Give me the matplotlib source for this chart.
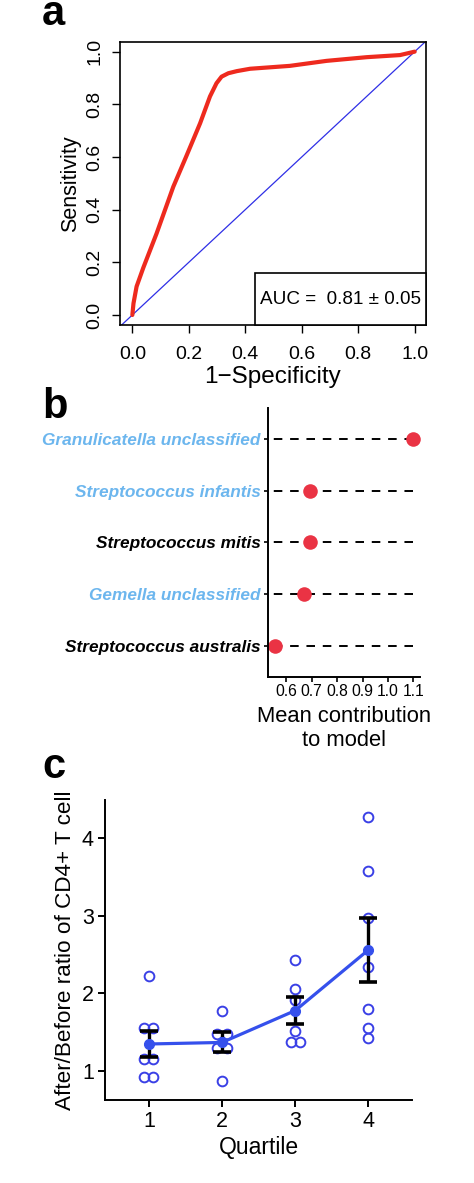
import numpy as np
import matplotlib
matplotlib.use("Agg")
import matplotlib.pyplot as plt
from matplotlib.offsetbox import AnchoredOffsetbox, TextArea, VPacker, DrawingArea

plt.rcParams['font.family'] = ['Liberation Sans', 'DejaVu Sans']

# panel a: ROC curve
roc_fpr = [0.0, 0.004, 0.015, 0.039, 0.086, 0.145, 0.19, 0.24, 0.275, 0.298, 0.316,
           0.34, 0.37, 0.417, 0.558, 0.688, 0.83, 0.948, 1.0]
roc_tpr = [0.0, 0.044, 0.108, 0.18, 0.31, 0.487, 0.6, 0.728, 0.83, 0.88, 0.905,
           0.918, 0.926, 0.935, 0.946, 0.965, 0.979, 0.987, 1.0]
auc_text = "AUC =  0.81 \u00b1 0.05"

# panel b: mean contribution to model
taxa = ["Streptococcus australis", "Gemella unclassified", "Streptococcus mitis",
        "Streptococcus infantis", "Granulicatella unclassified"]
contribution = [0.554, 0.668, 0.694, 0.694, 1.099]
taxa_colors = ["black", "#6CB6EE", "black", "#6CB6EE", "#6CB6EE"]
contrib_ticks = [0.6, 0.7, 0.8, 0.9, 1.0, 1.1]

# panel c: after/before ratio per quartile
quartiles = ["1", "2", "3", "4"]
ratios = [
    [0.92, 0.92, 1.16, 1.16, 1.55, 1.55, 2.23],
    [0.87, 1.30, 1.30, 1.48, 1.48, 1.78],
    [1.38, 1.38, 1.52, 1.91, 2.06, 2.43],
    [1.43, 1.55, 1.80, 2.34, 2.97, 3.58, 4.27],
]
ratio_mean = [1.35, 1.37, 1.78, 2.56]
ratio_low = [1.18, 1.25, 1.61, 2.15]
ratio_high = [1.52, 1.50, 1.96, 2.97]

fig = plt.figure(figsize=(4.74, 11.83), dpi=100)

# ---------- a ----------
ax = fig.add_axes([0.2532, 0.7253, 0.6449, 0.2395])
ax.plot([-0.1, 1.1], [-0.1, 1.1], color='#2F2FE6', lw=0.9, zorder=1)
ax.plot(roc_fpr, roc_tpr, color='#EE2A1E', lw=3.0, solid_capstyle='round',
        solid_joinstyle='round', zorder=2)
ax.set_xlim(-0.0437, 1.039)
ax.set_ylim(-0.038, 1.038)
ticks = [0.0, 0.2, 0.4, 0.6, 0.8, 1.0]
ax.set_xticks(ticks)
ax.set_yticks(ticks)
ax.set_xticklabels([f"{t:.1f}" for t in ticks])
ax.set_yticklabels([f"{t:.1f}" for t in ticks])
for lab in ax.get_yticklabels():
    lab.set_rotation(90)
    lab.set_va('center')
ax.tick_params(length=6, width=1, labelsize=14, pad=6)
ax.tick_params(axis='x', pad=9)
for s in ax.spines.values():
    s.set_linewidth(1.2)
ax.set_xlabel("1\u2212Specificity", fontsize=17.5, labelpad=2)
ax.set_ylabel("Sensitivity", fontsize=15.5, labelpad=4)
ta = TextArea(auc_text, textprops=dict(size=13.6))
box = VPacker(children=[DrawingArea(1, 9), ta, DrawingArea(1, 9)],
              align='center', pad=0, sep=0)
auc_box = AnchoredOffsetbox(loc='lower right', child=box, pad=0.35, borderpad=0,
                            frameon=True)
auc_box.patch.set_boxstyle("square,pad=0")
auc_box.patch.set_linewidth(1.2)
ax.add_artist(auc_box)

# ---------- b ----------
bx = fig.add_axes([0.5648, 0.428, 0.3213, 0.2271])
ypos = np.arange(1, len(taxa) + 1)
span = max(contribution) - min(contribution)
xlo = min(contribution) - 0.05 * span
xhi = max(contribution) + 0.05 * span
# drawn from the right end so every row ends on a dash
bx.hlines(ypos, max(contribution), xlo, colors='black', lw=1.4,
          linestyles=(0, (4.4, 4.0)), zorder=1)
bx.scatter(contribution, ypos, s=110, color='#EA3344', zorder=2, linewidths=0)
bx.set_xlim(xlo, xhi)
bx.set_ylim(0.4, len(taxa) + 0.6)
bx.set_yticks(ypos)
bx.set_yticklabels(taxa, fontsize=12.4, fontweight='bold', fontstyle='italic')
for lab, c in zip(bx.get_yticklabels(), taxa_colors):
    lab.set_color(c)
bx.set_xticks(contrib_ticks)
bx.set_xticklabels([f"{t:.1f}" for t in contrib_ticks])
bx.tick_params(axis='x', length=3.5, width=1.2, labelsize=11.3, pad=2)
bx.tick_params(axis='y', length=3, width=1.2, pad=2)
for side in ['top', 'right']:
    bx.spines[side].set_visible(False)
for side in ['left', 'bottom']:
    bx.spines[side].set_linewidth(1.4)
bx.set_xlabel("Mean contribution\nto model", fontsize=15.8, labelpad=5,
              linespacing=1.2)

# ---------- c ----------
cx = fig.add_axes([0.2215, 0.0702, 0.6483, 0.2536])
xq = np.arange(1, len(quartiles) + 1)
for xi, vals in zip(xq, ratios):
    vals = np.asarray(vals)
    offs = np.zeros(len(vals))
    for v in np.unique(vals):
        idx = np.where(vals == v)[0]
        offs[idx] = (np.arange(len(idx)) - (len(idx) - 1) / 2) * 0.125
    cx.plot(xi + offs, vals, 'o', mfc='none', mec='#3A40E6', mew=1.4, ms=7,
            zorder=1)
mean_arr = np.array(ratio_mean)
cx.errorbar(xq, mean_arr, yerr=[mean_arr - np.array(ratio_low), np.array(ratio_high) - mean_arr],
            fmt='none', ecolor='black', elinewidth=2.4, capsize=6.5, capthick=2.6, zorder=2)
cx.plot(xq, mean_arr, '-o', color='#3550EC', lw=2.3, ms=7, zorder=3)
cx.set_xlim(0.4, len(quartiles) + 0.6)
cx.set_ylim(0.63, 4.49)
cx.set_xticks(xq)
cx.set_xticklabels(quartiles)
cx.set_yticks([1, 2, 3, 4])
cx.tick_params(length=5, width=1.4, labelsize=15.5, pad=3)
for side in ['top', 'right']:
    cx.spines[side].set_visible(False)
for side in ['left', 'bottom']:
    cx.spines[side].set_linewidth(1.4)
cx.set_xlabel("Quartile", fontsize=16.5, labelpad=3)
cx.set_ylabel("After/Before ratio of CD4+ T cell", fontsize=16.2, labelpad=4)

# panel letters
fig.text(0.0886, 1 - 25 / 1183, "a", fontsize=30, fontweight='bold', va='baseline')
fig.text(0.0886, 1 - 418 / 1183, "b", fontsize=30, fontweight='bold', va='baseline')
fig.text(0.0886, 1 - 778 / 1183, "c", fontsize=30, fontweight='bold', va='baseline')

fig.savefig("out.png", dpi=100)
